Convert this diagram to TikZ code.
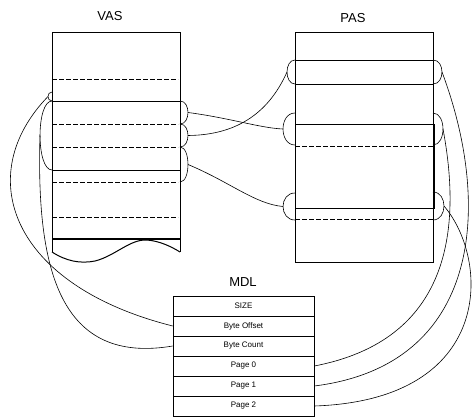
\documentclass[tikz,border=0pt]{standalone}
\usepackage{fontspec}
\setmainfont{Liberation Sans}
\usepackage{tikz}
\usetikzlibrary{calc}

\tikzset{
  rayas/.style={dash pattern=on 5pt off 2pt},
  fila/.style={draw, minimum width=141pt, minimum height=20pt, inner sep=0pt, font=\fontsize{8}{9}\selectfont},
  titulo/.style={font=\fontsize{13}{15}\selectfont}
}

\begin{document}
\begin{tikzpicture}[x=1pt, y=-1pt, line width=0.6pt]
        \useasboundingbox (0,0) rectangle (474,418);

        % Titulos
        \node[titulo] (vas) at (110,16) {VAS};
        \node[titulo] (pas) at (353,18) {PAS};
        \node[titulo] (mdl) at (243,282) {MDL};

        % Espacio virtual (VAS)
        \draw (52,252) -- (52,32) -- (180,32) -- (180,252);
        \draw[line width=1pt] (52,252) .. controls (66,261) and (80,264) .. (95,261)
              .. controls (115,256) and (130,239) .. (147,240)
              .. controls (160,241) and (172,247) .. (180,252);
        \foreach \y in {101,170}
            \draw (52,\y) -- (180,\y);
        \draw[line width=1.3pt] (52,239) -- (180,239);
        \foreach \y in {79,124,147,182,217}
            \draw[rayas] (52,\y) -- (178,\y);

        % Espacio fisico (PAS)
        \draw (295,32) rectangle (433,262);
        \draw[line width=1pt] (295,60) -- (433,60) (295,84) -- (433,84);
        \draw[line width=1pt] (295,124) rectangle (434,208);
        \foreach \y in {146,219}
            \draw[rayas] (295,\y) -- (433,\y);

        % Llaves: x / y inicial / y final / abombado / nombre
        \foreach \x/\ya/\yb/\d/\n in {52/92/101/-4/vl0, 52/101/170/-12/vl1,
                180/101/124/8/v1, 180/124/147/8/v2, 180/147/182/8/v3,
                295/60/84/-8/l1, 295/113/145/-12/l2, 295/193/220/-12/l3,
                433/60/84/9/t1, 433/113/145/10/t2, 433/192/220/11/t3} {
            \draw (\x,\ya) .. controls ({\x+1.33*\d},\ya) and ({\x+1.33*\d},\yb) .. (\x,\yb);
            \coordinate (\n) at ({\x+\d},{(\ya+\yb)/2});
        }

        % MDL
        \foreach \n/\t [count=\i from 0] in {size/SIZE, ofs/Byte Offset, cnt/Byte Count,
                pg0/Page 0, pg1/Page 1, pg2/Page 2}
            \node[fila] (\n) at (243.5,{306+20*\i}) {\t};

        % Paginas virtuales -> paginas fisicas
        \draw (v1) .. controls (230,118) and (260,128) .. (l2);
        \draw (v2) .. controls (240,135) and (270,110) .. (l1);
        \draw (v3) .. controls (230,182) and (255,204) .. (l3);

        % MDL -> VAS
        \draw (vl0) .. controls (-28,175) and (10,285) .. (ofs.west);
        \draw (vl1) .. controls (36,270) and (60,365) .. (cnt.west);

        % MDL -> PAS
        \draw (t2) .. controls (462,230) and (450,340) .. (pg0.east);
        \draw (t1) .. controls (492,205) and (482,365) .. (pg1.east);
        \draw (t3) .. controls (490,260) and (495,400) .. (pg2.east);

    \end{tikzpicture}
\end{document}
